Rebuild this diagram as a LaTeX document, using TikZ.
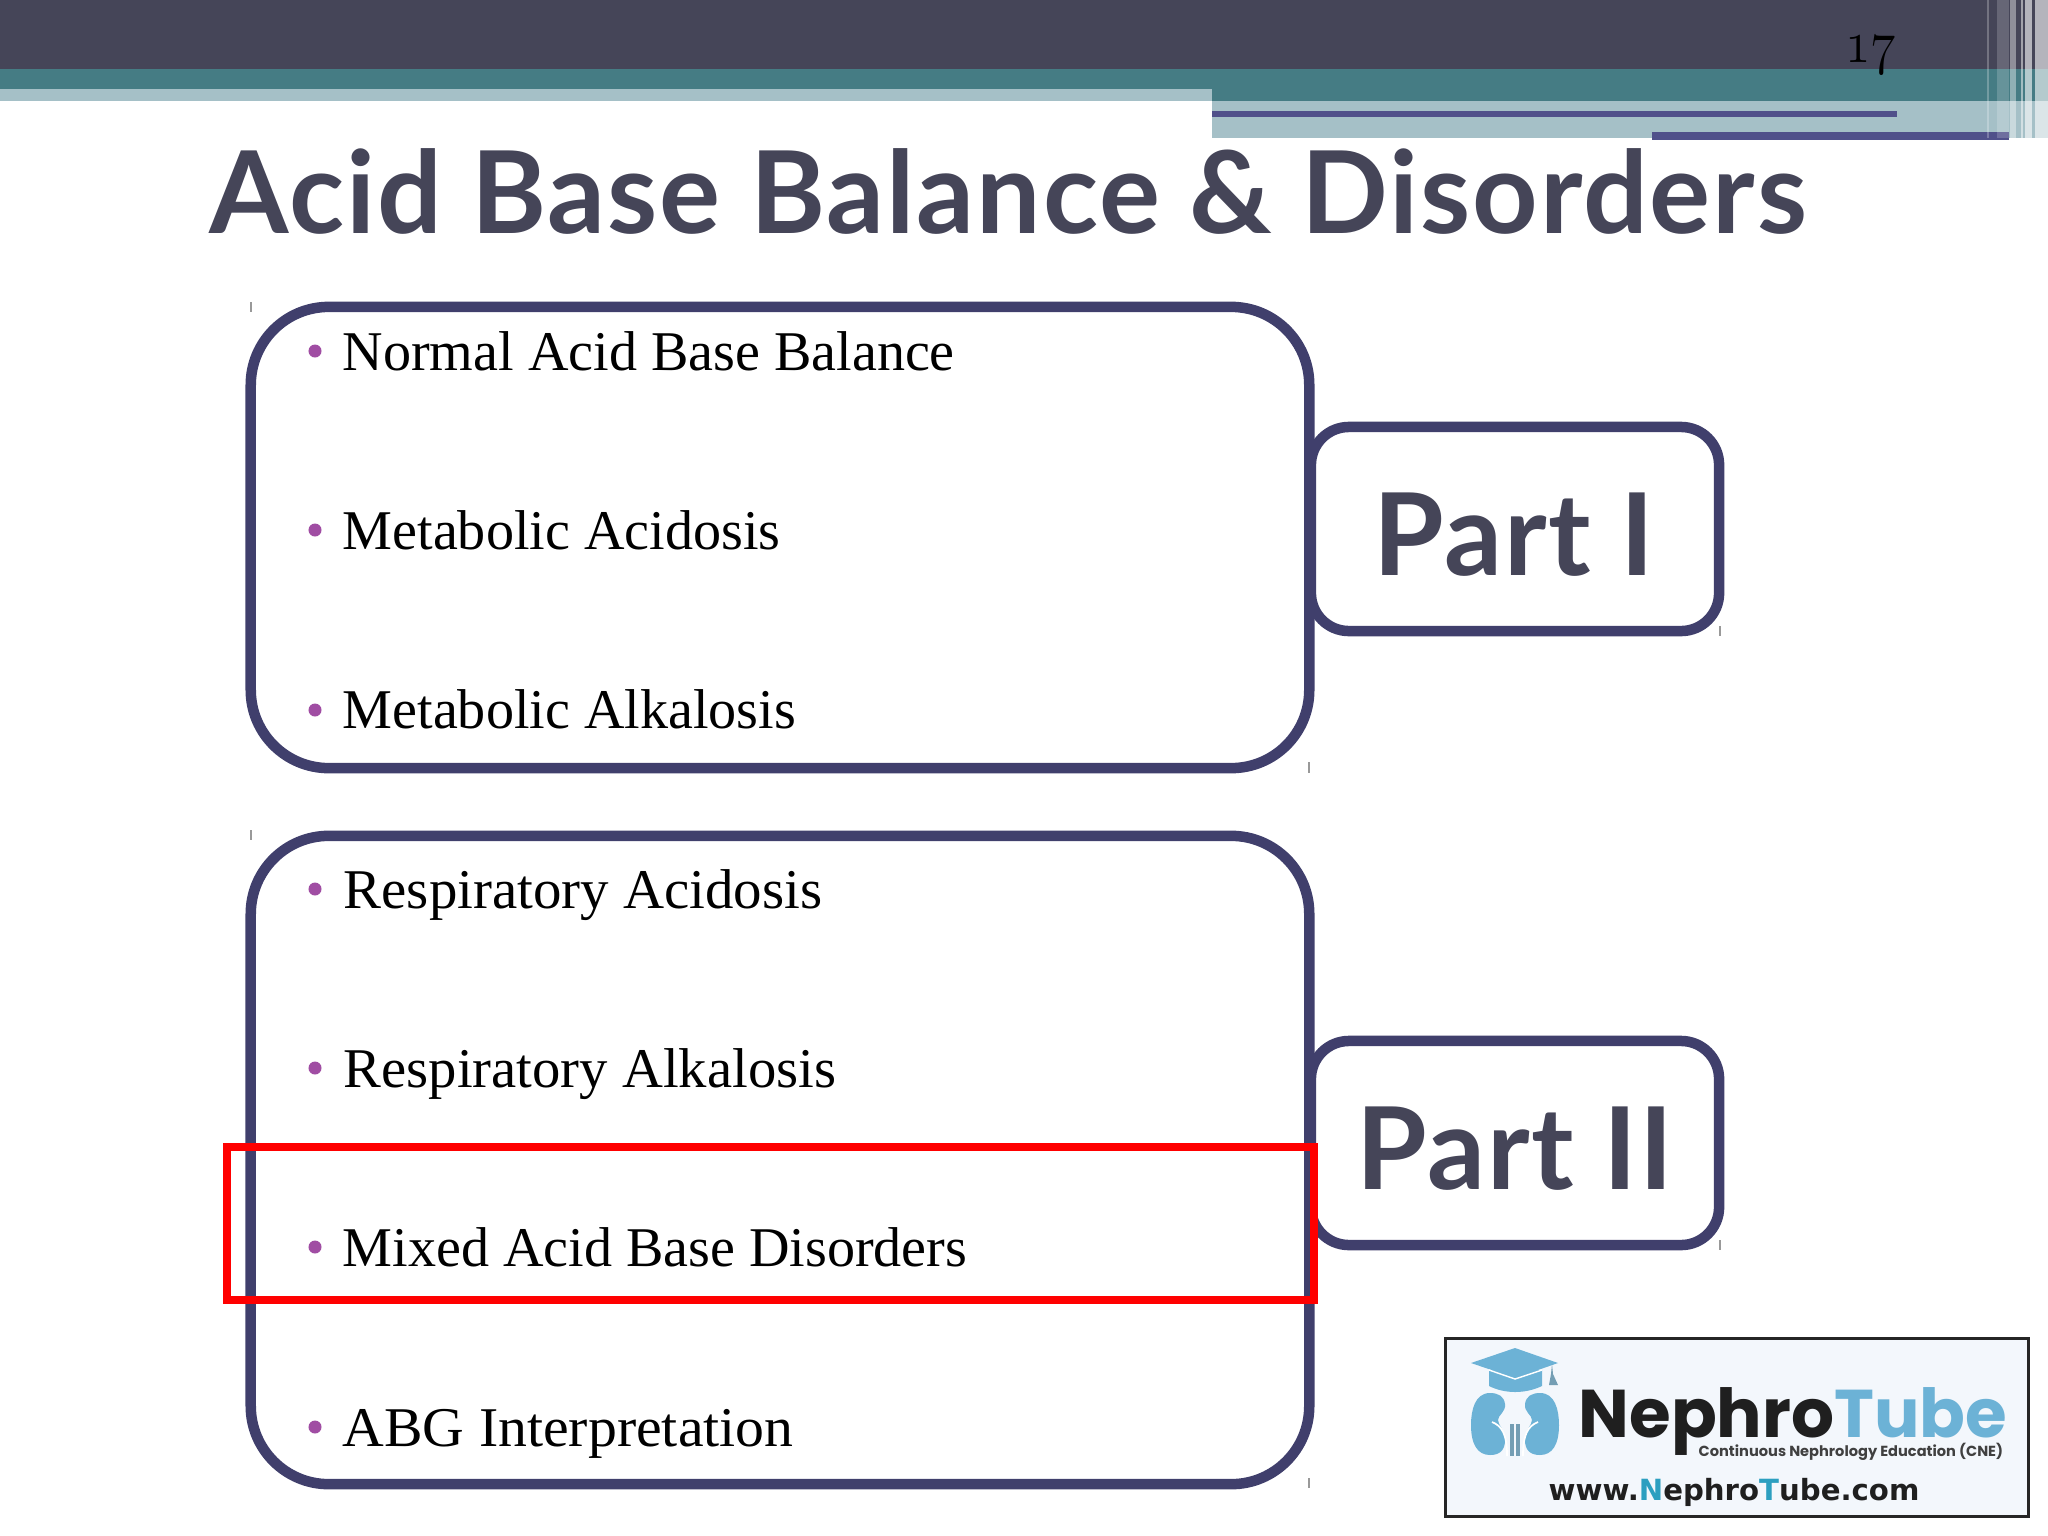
\documentclass[tikz,border=0pt]{standalone}
\usepackage{fontspec}
\setmainfont{Liberation Serif}
\newfontfamily\titlefont[LetterSpace=1.6]{Lato}
\newfontfamily\logofont{Poppins}
\newfontfamily\urlfont{DejaVu Sans}
\definecolor{slatedark}{HTML}{454558}
\definecolor{boxline}{HTML}{403F6C}
\definecolor{tealband}{HTML}{457C84}
\definecolor{paleband}{HTML}{A5C0C7}
\definecolor{purpleline}{HTML}{50508A}
\definecolor{bulletpink}{HTML}{A04DA3}
\definecolor{logoblue}{HTML}{6CB2D6}
\definecolor{logoteal}{HTML}{2C9FC0}
\definecolor{logoback}{HTML}{F3F7FC}
\tikzset{
  partbox/.style={draw=boxline, line width=10.5*0.2845pt, rounded corners=38*0.2845pt, fill=white, inner sep=0pt, outer sep=0pt, minimum width=408*0.2845pt, minimum height=204*0.2845pt},
  listbox/.style={draw=boxline, line width=10.5*0.2845pt, rounded corners=78*0.2845pt, inner sep=0pt, outer sep=0pt, minimum width=1058*0.2845pt},
  bulletdot/.style={circle, fill=bulletpink, inner sep=0pt, minimum size=3.7pt},
  itemtext/.style={anchor=base west, inner sep=0pt, font=\fontsize{15.95}{18}\selectfont},
  parttext/.style={anchor=base west, inner sep=0pt, text=slatedark, font=\titlefont\bfseries\fontsize{32.5}{40}\selectfont},
  edgetick/.style={draw=black!40, line width=.3pt},
}
\begin{document}
\begin{tikzpicture}[x=0.01cm,y=-0.01cm]
\useasboundingbox (0,0) rectangle (2048,1536);
% header bands
\fill[slatedark] (0,0) rectangle (2048,69);
\fill[tealband] (0,69) rectangle (2048,101);
\fill[paleband] (0,89) rectangle (1212,101);
\fill[paleband] (1212,101) rectangle (2048,138);
\fill[purpleline] (1212,111) rectangle (1897,117);
\fill[purpleline] (1652,132) rectangle (2009,140);
% stripes on the right
\fill[white,opacity=.25] (1987,0) rectangle (1989,138);
\fill[white,opacity=.18] (1997,0) rectangle (2009,138);
\fill[white,opacity=.4] (2010,0) rectangle (2016,138);
\fill[white,opacity=.5] (2021,0) rectangle (2022.5,138);
\fill[white,opacity=.6] (2025,0) rectangle (2032,138);
\fill[white,opacity=.6] (2035,0) rectangle (2048,138);

\node[anchor=base, inner sep=0pt, font=\fontsize{18}{20}\selectfont] (pagenum) at (1871,62) {\scalebox{.85}[1]{$\mathnormal{17}$}};
\node[parttext] (slidetitle) at (209,233) {Acid Base Balance \& Disorders};

% list boxes
\node[listbox, minimum height=461*0.2845pt] (firstbox) at (780,537.5) {};
\node[listbox, minimum height=648*0.2845pt] (secondbox) at (780,1160) {};
\node[partbox] (partone) at (1515,529) {};
\node[partbox] (parttwo) at (1515,1143) {};
\node[parttext] (partonetext) at (1373,575) {Part I};
\node[parttext] (parttwotext) at (1356,1189) {Part II};

% small marks at the box corners
\draw[edgetick] (251,302) -- (251,312);
\draw[edgetick] (1309,762) -- (1309,773);
\draw[edgetick] (251,830) -- (251,840);
\draw[edgetick] (1309,1478) -- (1309,1488);
\draw[edgetick] (1720,626) -- (1720,636);
\draw[edgetick] (1720,1240) -- (1720,1250);

% items
\node[bulletdot] (dota) at (315,351) {};
\node[itemtext] (itema) at (342,370) {Normal Acid Base Balance};
\node[bulletdot] (dotb) at (315,530) {};
\node[itemtext] (itemb) at (342,549) {Metabolic Acidosis};
\node[bulletdot] (dotc) at (315,710) {};
\node[itemtext] (itemc) at (342,728) {Metabolic Alkalosis};
\node[bulletdot] (dotd) at (315,889) {};
\node[itemtext] (itemd) at (343,908) {\scalebox{1.014}[1]{Respiratory Acidosis}};
\node[bulletdot] (dote) at (315,1068) {};
\node[itemtext] (iteme) at (343,1087) {\scalebox{1.01}[1]{Respiratory Alkalosis}};
\node[bulletdot] (dotf) at (315,1247) {};
\node[itemtext] (itemf) at (342,1266) {Mixed Acid Base Disorders};
\node[bulletdot] (dotg) at (315,1427) {};
\node[itemtext] (itemg) at (342,1446) {\scalebox{1.03}[1]{ABG Interpretation}};

% red frame
\node[draw=red, line width=8*0.2845pt, inner sep=0pt, minimum width=1087*0.2845pt, minimum height=153*0.2845pt] (redframe) at (770.5,1223.5) {};

% logo
\node[draw=black!85, line width=3*0.2845pt, fill=logoback, inner sep=0pt, minimum width=582*0.2845pt, minimum height=177*0.2845pt] (logobox) at (1737,1427.5) {};
\fill[logoblue] (1489,1370) -- (1489,1386) .. controls (1505,1394) and (1525,1394) .. (1542,1386) -- (1542,1370) -- cycle;
\fill[logoblue] (1515,1348) -- (1558,1363) -- (1515,1378) -- (1471,1363) -- cycle;
\draw[white, line width=.4pt] (1489,1370) -- (1515,1379) -- (1542,1370);
\fill[logoblue!60!gray] (1552,1364) -- (1553,1374) -- (1558,1385) -- (1549,1385) -- (1551,1374) -- cycle;
\fill[logoblue] (1490,1393) .. controls (1475,1393) and (1471,1410) .. (1471,1425) .. controls (1471,1445) and (1478,1455) .. (1490,1455) .. controls (1500,1455) and (1505,1450) .. (1505,1440) .. controls (1505,1430) and (1498,1425) .. (1498,1420) .. controls (1498,1415) and (1506,1412) .. (1505,1404) .. controls (1504,1396) and (1498,1393) .. (1490,1393) -- cycle;
\fill[logoblue] (1540,1393) .. controls (1555,1393) and (1559,1410) .. (1559,1425) .. controls (1559,1445) and (1552,1455) .. (1540,1455) .. controls (1530,1455) and (1525,1450) .. (1525,1440) .. controls (1525,1430) and (1532,1425) .. (1532,1420) .. controls (1532,1415) and (1524,1412) .. (1525,1404) .. controls (1526,1396) and (1532,1393) .. (1540,1393) -- cycle;
\draw[white, line width=.5pt] (1492,1422) .. controls (1502,1426) and (1507,1434) .. (1507,1456);
\draw[white, line width=.5pt] (1538,1422) .. controls (1528,1426) and (1523,1434) .. (1523,1456);
\fill[logoblue!60!gray] (1510,1424) rectangle (1514,1456);
\fill[logoblue!60!gray] (1516,1424) rectangle (1520,1456);
\node[anchor=base west, inner sep=0pt, font=\logofont\bfseries\fontsize{19.2}{24}\selectfont] (logoname) at (1578,1437) {\textcolor{black!88}{Nephro}\textcolor{logoblue}{Tube}};
\node[anchor=base west, inner sep=0pt, text=black!75, font=\logofont\bfseries\fontsize{4.15}{6}\selectfont] (logotag) at (1698,1456) {Continuous Nephrology Education (CNE)};
\node[anchor=base west, inner sep=0pt, text=black!88, font=\urlfont\bfseries\fontsize{8.3}{11}\selectfont] (logourl) at (1548,1500) {www.\textcolor{logoteal}{N}ephro\textcolor{logoteal}{T}ube.com};
\end{tikzpicture}
\end{document}
